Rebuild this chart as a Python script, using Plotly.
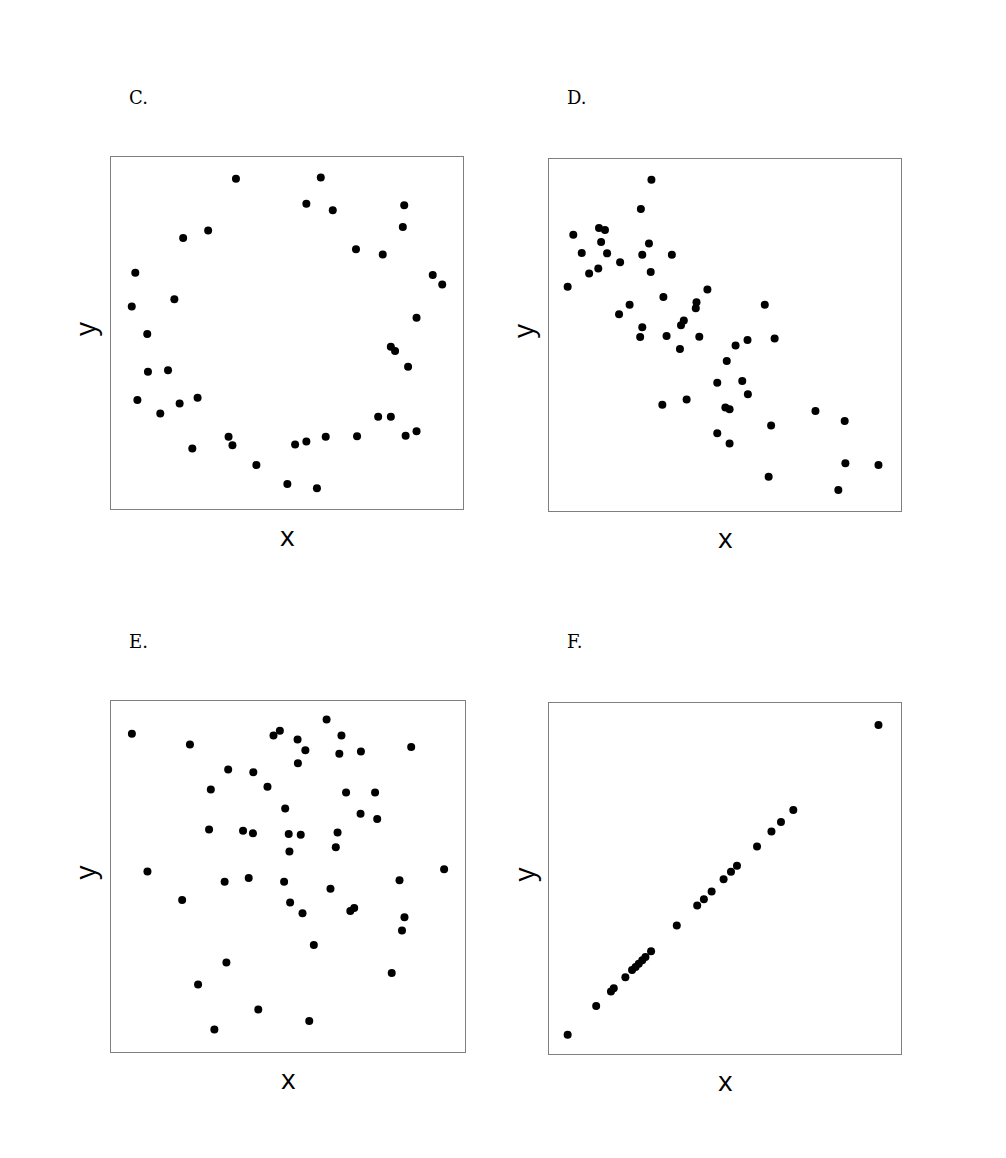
import plotly.graph_objects as go

# Panel C: ring-shaped cloud
c_x = [35.5, 59.6, 55.5, 63.0, 83.3, 82.9, 20.5, 27.6, 69.6, 77.2, 6.9, 91.4, 94.1, 18.0, 5.9,
       86.8, 10.3, 79.5, 80.7, 84.4, 10.5, 16.2, 7.5, 24.6, 19.5, 14.0, 75.9, 79.5, 83.7, 86.8,
       33.4, 34.5, 23.1, 52.3, 55.5, 61.0, 69.9, 41.3, 50.1, 58.5]
c_y = [93.8, 94.2, 86.7, 84.9, 86.3, 80.1, 77.0, 79.1, 73.8, 72.3, 67.1, 66.5, 63.8, 59.6, 57.5,
       54.3, 49.7, 46.1, 44.9, 40.4, 39.0, 39.4, 31.0, 31.6, 30.0, 27.1, 26.2, 26.2, 20.8, 22.1,
       20.5, 18.1, 17.2, 18.3, 19.2, 20.5, 20.7, 12.5, 7.1, 5.9]

# Panel D: negative association
d_x = [29.1, 26.1, 14.2, 15.9, 6.9, 14.8, 28.4, 9.3, 16.5, 26.5, 34.9, 20.2, 14.0, 11.4, 28.9,
       5.3, 45.0, 32.5, 41.9, 41.7, 22.9, 61.3, 19.9, 38.3, 37.5, 26.5, 25.9, 33.4, 42.7, 56.4,
       64.1, 53.0, 37.2, 50.5, 47.8, 54.9, 56.5, 39.1, 32.2, 50.1, 51.3, 75.7, 84.0, 63.1, 47.8,
       51.3, 84.2, 93.6, 62.4, 82.2]
d_y = [94.1, 85.8, 80.4, 79.8, 78.5, 76.4, 76.0, 73.3, 73.2, 72.8, 72.8, 70.7, 68.9, 67.5, 67.9,
       63.7, 62.9, 60.8, 59.3, 57.6, 58.6, 58.6, 55.9, 54.1, 52.8, 52.2, 49.4, 49.7, 49.5, 48.6,
       49.0, 47.0, 46.0, 42.6, 36.4, 36.9, 33.2, 31.7, 30.2, 29.4, 28.9, 28.4, 25.6, 24.3, 22.1,
       19.2, 13.6, 13.1, 9.7, 6.0]

# Panel E: no association
e_x = [5.9, 22.3, 45.9, 47.7, 52.7, 54.9, 60.9, 65.1, 64.5, 70.6, 84.8, 52.8, 33.1, 40.2, 44.2,
       28.2, 66.4, 74.6, 49.2, 70.5, 75.2, 27.7, 37.3, 40.1, 50.2, 53.6, 64.0, 63.5, 50.4, 10.3,
       94.1, 32.1, 38.9, 48.9, 81.5, 62.0, 20.1, 50.6, 54.1, 67.6, 68.7, 82.9, 82.2, 57.3, 32.6,
       79.3, 24.6, 41.6, 56.0, 29.2]
e_y = [90.7, 87.6, 90.2, 91.5, 89.0, 86.0, 94.7, 90.2, 85.0, 85.6, 86.9, 82.3, 80.5, 79.7, 75.6,
       74.8, 73.9, 73.9, 69.4, 67.9, 66.4, 63.4, 63.0, 62.3, 62.1, 61.9, 62.5, 58.3, 57.1, 51.4,
       52.1, 48.5, 49.6, 48.5, 48.9, 46.5, 43.3, 42.6, 39.5, 40.2, 41.0, 38.4, 34.6, 30.5, 25.5,
       22.5, 19.2, 12.1, 8.8, 6.4]

# Panel F: perfect linear with outlier
f_x = [93.6, 69.4, 65.9, 63.2, 59.1, 53.4, 51.7, 49.6, 46.2, 44.0, 42.1, 36.3, 29.0, 27.4, 26.5,
       25.5, 24.6, 23.6, 21.7, 18.4, 17.6, 13.4, 5.3]
f_y = [93.7, 69.5, 66.1, 63.4, 59.1, 53.6, 51.9, 49.8, 46.3, 44.1, 42.3, 36.6, 29.3, 27.6, 26.7,
       25.7, 24.8, 23.9, 21.9, 18.7, 17.8, 13.7, 5.5]

panel_labels = ["C.", "D.", "E.", "F."]
x_title = "x"
y_title = "y"

W, H = 1006, 1158
OFF = 8  # page offset of the figure (browser body margin)
# box pixel positions on the page (left, right, top, bottom)
boxes = [(111, 463, 157, 509), (549, 901, 159, 511), (111, 465, 701, 1052), (549, 901, 703, 1054)]
label_rows = [97, 97, 641, 641]
data = [(c_x, c_y), (d_x, d_y), (e_x, e_y), (f_x, f_y)]


def px(v):
    return (v - OFF) / W


def py(v):
    return 1 - (v - OFF) / H


fig = go.Figure()
layout = dict(width=W, height=H, margin=dict(l=0, r=0, t=0, b=0),
              paper_bgcolor="white", plot_bgcolor="white", showlegend=False)
annotations = []
for i, ((xs, ys), (l, r, t, b)) in enumerate(zip(data, boxes)):
    n = "" if i == 0 else str(i + 1)
    fig.add_trace(go.Scatter(x=xs, y=ys, mode="markers", xaxis="x" + n, yaxis="y" + n,
                             marker=dict(color="black", size=8, line=dict(width=0))))
    ax = dict(range=[0, 100], showticklabels=False, ticks="", showgrid=False, zeroline=False,
              showline=True, mirror=True, linecolor="#7f7f7f", linewidth=1)
    layout["xaxis" + n] = dict(ax, domain=[px(l), px(r)], anchor="y" + n)
    layout["yaxis" + n] = dict(ax, domain=[py(b), py(t)], anchor="x" + n)
    annotations.append(dict(text=panel_labels[i], x=px(l + 16), y=py(label_rows[i]),
                            xref="paper", yref="paper", xanchor="left", yanchor="middle",
                            showarrow=False, font=dict(family="DejaVu Serif", size=18, color="black")))
    annotations.append(dict(text=x_title, x=px((l + r) / 2), y=py(b + 26),
                            xref="paper", yref="paper", xanchor="center", yanchor="middle",
                            showarrow=False, font=dict(family="Open Sans", size=28, color="black")))
    annotations.append(dict(text=y_title, x=px(l - 27), y=py((t + b) / 2 - 4),
                            xref="paper", yref="paper", xanchor="center", yanchor="middle",
                            textangle=-90, showarrow=False,
                            font=dict(family="Open Sans", size=28, color="black")))
layout["annotations"] = annotations
fig.update_layout(**layout)
fig.write_html("out.html")
